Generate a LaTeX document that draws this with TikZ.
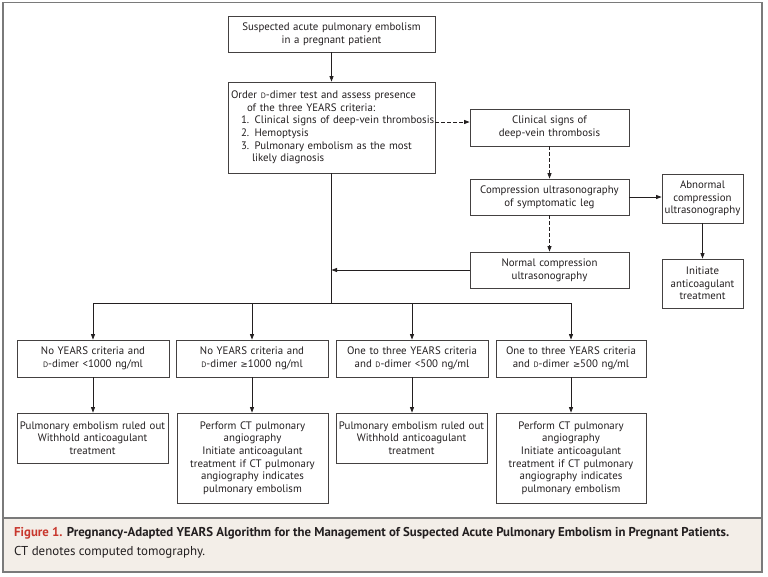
\documentclass[tikz,border=0pt]{standalone}
\usepackage{fontspec}
\setmainfont{PT Sans}
\newfontfamily\symf{DejaVu Sans}
\usetikzlibrary{arrows.meta}
\definecolor{ink}{HTML}{231F20}
\definecolor{framegray}{HTML}{7A7A7A}
\definecolor{capbg}{HTML}{F3EEE8}
\definecolor{figred}{HTML}{C8372D}
\newcommand\Ddim{{\fontsize{7.8}{7.8}\selectfont D}-dimer}
\newcommand\geqsym{{\symf\fontsize{8.6}{8.6}\selectfont ≥}}
\begin{document}
\begin{tikzpicture}[x=1pt,y=-1pt,
 box/.style={draw=ink!85, line width=0.8pt, inner sep=0pt, align=center, text=ink, font=\fontsize{10.85}{12.6}\selectfont},
 conn/.style={draw=ink, line width=0.8pt},
 arr/.style={conn, -{Triangle[length=5.5pt,width=4pt]}},
 dsh/.style={arr, dash pattern=on 3.5pt off 2.5pt}]
\useasboundingbox (0,0) rectangle (768,576);
\fill[white] (0,0) rectangle (768,576);
\fill[capbg] (3,518) rectangle (762,572);
\draw[framegray, line width=1.6pt] (3,2.5) rectangle (762,572);
\draw[framegray, line width=1.2pt] (3,518) -- (762,518);

\node[box, minimum width=207pt, minimum height=36pt, text width=204pt] (s) at (331.5,34) {Suspected acute pulmonary embolism\\in a pregnant patient};
\node[box, minimum width=207pt, minimum height=91pt, text width=206pt, align=left] (o) at (331.5,127.5) {\hspace*{2.5pt}Order \Ddim{} test and assess presence\\
\hspace*{18.5pt}of the three YEARS criteria:\\
\hspace*{12.5pt}1. Clinical signs of deep-vein thrombosis\\
\hspace*{12.5pt}2. Hemoptysis\\
\hspace*{12.5pt}3. Pulmonary embolism as the most\\
\hspace*{23.5pt}likely diagnosis};

\node[box, minimum width=159pt, minimum height=37pt, text width=155pt] (c) at (549.5,127.5) {Clinical signs of\\deep-vein thrombosis};
\node[box, minimum width=159pt, minimum height=36pt, text width=155pt] (u) at (549.5,197) {Compression ultrasonography\\of symptomatic leg};
\node[box, minimum width=81pt, minimum height=49pt, text width=80pt] (ab) at (702.5,198.5) {Abnormal\\compression\\ultrasonography};
\node[box, minimum width=81pt, minimum height=49pt, text width=80pt] (it) at (702.5,283.5) {Initiate\\anticoagulant\\treatment};
\node[box, minimum width=159pt, minimum height=36pt, text width=155pt] (n) at (549.5,270) {Normal compression\\ultrasonography};

\node[box, minimum width=152pt, minimum height=37pt, text width=150pt] (ra) at (93,358.5) {No YEARS criteria and\\\Ddim{} <1000 ng/ml};
\node[box, minimum width=152pt, minimum height=37pt, text width=150pt] (rb) at (252,358.5) {No YEARS criteria and\\\Ddim{} \geqsym1000 ng/ml};
\node[box, minimum width=152pt, minimum height=37pt, text width=150pt] (rc) at (412,358.5) {One to three YEARS criteria\\and \Ddim{} <500 ng/ml};
\node[box, minimum width=150pt, minimum height=37pt, text width=148pt] (rd) at (571,358.5) {One to three YEARS criteria\\and \Ddim{} \geqsym500 ng/ml};

\node[box, minimum width=151pt, minimum height=50pt, text width=150pt] (ea) at (92.5,438) {Pulmonary embolism ruled out\\Withhold anticoagulant\\treatment};
\node[box, minimum width=151pt, minimum height=90pt, text width=150pt] (eb) at (252.5,458) {Perform CT pulmonary\\angiography\\Initiate anticoagulant\\treatment if CT pulmonary\\angiography indicates\\pulmonary embolism};
\node[box, minimum width=151pt, minimum height=50pt, text width=150pt] (ec) at (411.5,438) {Pulmonary embolism ruled out\\Withhold anticoagulant\\treatment};
\node[box, minimum width=150pt, minimum height=90pt, text width=148pt] (ed) at (571,458) {Perform CT pulmonary\\angiography\\Initiate anticoagulant\\treatment if CT pulmonary\\angiography indicates\\pulmonary embolism};

% connectors
\draw[arr] (s) -- (o);
\draw[dsh] (o.east |- 0,122) -- (c.west |- 0,122);
\draw[dsh] (c) -- (u);
\draw[arr] (u.east) -- (u.east -| ab.west);
\draw[arr] (ab) -- (it);
\draw[dsh] (u) -- (n);
\coordinate (j) at (o.south |- 0,303);
\draw[conn] (o.south) -- (j);
\draw[arr] (n.west) -- (n.west -| j);
\draw[conn] (ra.north |- j) -- (rd.north |- j);
\draw[arr] (ra.north |- j) -- (ra.north);
\draw[arr] (rb.north |- j) -- (rb.north);
\draw[arr] (rc.north |- j) -- (rc.north);
\draw[arr] (rd.north |- j) -- (rd.north);
\draw[arr] (ra) -- (ra |- ea.north);
\draw[arr] (rb) -- (rb |- eb.north);
\draw[arr] (rc) -- (rc |- ec.north);
\draw[arr] (rd) -- (rd |- ed.north);

% caption
\node[anchor=west, inner sep=0pt, text=ink, font=\fontsize{12.8}{14}\selectfont\bfseries] (cap1) at (14,533) {{\color{figred}Figure 1.} Pregnancy-Adapted YEARS Algorithm for the Management of Suspected Acute Pulmonary Embolism in Pregnant Patients.};
\node[anchor=west, inner sep=0pt, text=ink, font=\fontsize{12.9}{14}\selectfont] (cap2) at (14,552) {CT denotes computed tomography.};
\end{tikzpicture}
\end{document}
